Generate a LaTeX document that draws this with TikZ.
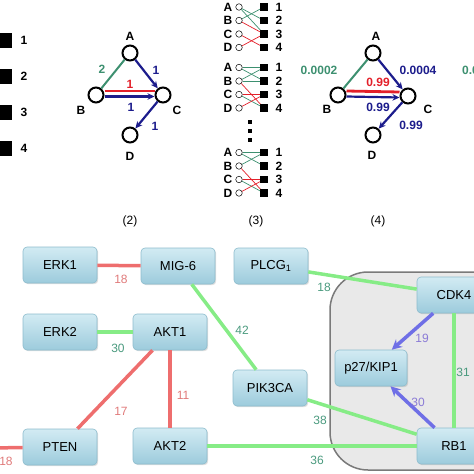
\documentclass[tikz,border=0pt]{standalone}
\usepackage{fontspec}
\setmainfont{Liberation Sans}
\usetikzlibrary{arrows.meta,shadows}
\definecolor{pgreen}{HTML}{3D9070}
\definecolor{pred}{HTML}{E3202A}
\definecolor{pblue}{HTML}{1C1C8C}
\definecolor{ered}{HTML}{EE6E6E}
\definecolor{egreen}{HTML}{86EC86}
\definecolor{eblue}{HTML}{6F6FE6}
\definecolor{lred}{HTML}{E07A7A}
\definecolor{lgreen}{HTML}{4A9A7E}
\definecolor{lblue}{HTML}{8A7AD6}
\definecolor{ntop}{HTML}{D2EBF3}
\definecolor{nbot}{HTML}{9CCBDC}
\definecolor{nborder}{HTML}{8DBCCD}
\definecolor{boxfill}{HTML}{E9E9E9}
\definecolor{boxdraw}{HTML}{7A7A7A}
\begin{document}
\begin{tikzpicture}[x=1pt,y=-1pt,
  gene/.style={rounded corners=4pt, minimum width=74pt, minimum height=36pt, top color=ntop, bottom color=nbot, draw=nborder, line width=0.6pt, font=\fontsize{13}{15}\selectfont, drop shadow={shadow xshift=1.2pt, shadow yshift=-1.2pt, opacity=0.25}, inner sep=0pt},
  elab/.style={font=\fontsize{12}{14}\selectfont},
  pc/.style={circle, draw=black, line width=2pt, fill=white, minimum size=15pt, inner sep=0pt},
  plab/.style={font=\bfseries\fontsize{12}{13}\selectfont, inner sep=0pt},
  nlab/.style={font=\bfseries\fontsize{12}{13}\selectfont, inner sep=0pt},
  captxt/.style={font=\fontsize{12}{14}\selectfont},
  sc/.style={circle, draw=black, line width=0.5pt, fill=white, minimum size=6.5pt, inner sep=0pt},
  sq/.style={fill=black, minimum size=7.5pt, inner sep=0pt},
  bigsq/.style={fill=black, minimum size=15pt, inner sep=0pt},
  parrow/.style={pblue, line width=2.2pt, -{Stealth[length=7pt,width=6.5pt]}},
  ebar/.style={line width=3.5pt},
  barrow/.style={eblue, line width=3.5pt, -{Stealth[length=10pt,width=10pt]}},
]
\path[use as bounding box] (0,0) rectangle (474,474);
\clip (0,0) rectangle (474,474);

% ---------- left panel (1)
\foreach \i/\y in {1/40,2/76,3/112,4/148}{
  \node[bigsq] (lsq\i) at (4,\y) {};
  \node[plab] (lnum\i) at (24,\y) {\i};
}

% ---------- panel (2)
\node[pc] (A2) at (130,53) {};
\node[pc] (B2) at (96,95) {};
\node[pc] (C2) at (163,95) {};
\node[pc] (D2) at (130,135) {};
\draw[pgreen, line width=2pt] (A2) -- (B2);
\draw[parrow] (A2) -- (C2);
\draw[pred, line width=2.8pt] ([yshift=4pt]B2.east) -- ([yshift=4pt]C2.west);
\draw[parrow] ([yshift=-1.5pt]B2.east) -- ([yshift=-1.5pt]C2.west);
\draw[parrow] (C2) -- (D2);
\node[plab] (A2l) at (130,36) {A};
\node[plab] (B2l) at (81,110) {B};
\node[plab] (C2l) at (177,110) {C};
\node[plab] (D2l) at (130,156) {D};
\node[plab, pgreen] (w2a) at (102,69) {2};
\node[plab, pred] (w2b) at (130,84) {1};
\node[plab, pblue] (w2c) at (131,107) {1};
\node[plab, pblue] (w2d) at (156,70) {1};
\node[plab, pblue] (w2e) at (155,126) {1};
\node[captxt] (cap2) at (130,221) {(2)};

% ---------- panel (3)
\foreach \g/\base in {1/7,2/67.5,3/152.5}{
  \foreach \i/\L in {0/A,1/B,2/C,3/D}{
    \pgfmathsetmacro{\yy}{\base+13.5*\i}
    \pgfmathtruncatemacro{\num}{\i+1}
    \node[plab] (l\g\i) at (228,\yy) {\L};
    \node[sc] (c\g\i) at (239,\yy) {};
    \node[sq] (s\g\i) at (264,\yy) {};
    \node[plab] (n\g\i) at (279,\yy) {\num};
  }
}
\foreach \a/\b in {0/1,0/2,1/0}{\draw[pgreen, line width=0.7pt] (c1\a) -- (s1\b);}
\foreach \a/\b in {1/2,2/3,3/2}{\draw[pred, line width=0.7pt] (c1\a) -- (s1\b);}
\foreach \a/\b in {0/0,0/1,1/0,1/1,2/3}{\draw[pgreen, line width=0.7pt] (c2\a) -- (s2\b);}
\foreach \a/\b in {1/3,2/2,3/2}{\draw[pred, line width=0.7pt] (c2\a) -- (s2\b);}
\foreach \a/\b in {0/0,0/1,1/0,2/3}{\draw[pgreen, line width=0.7pt] (c3\a) -- (s3\b);}
\foreach \a/\b in {1/3,2/2,3/2}{\draw[pred, line width=0.7pt] (c3\a) -- (s3\b);}
\foreach \y [count=\k] in {122,131,140}{\node[fill=black, minimum size=3.2pt, inner sep=0pt] (dot\k) at (250,\y) {};}
\node[captxt] (cap3) at (256,221) {(3)};

% ---------- panel (4)
\node[pc] (A4) at (373,53) {};
\node[pc] (B4) at (338,95) {};
\node[pc] (C4) at (408,96) {};
\node[pc] (D4) at (373,135) {};
\draw[pgreen, line width=2pt] (A4) -- (B4);
\draw[parrow] (A4) -- (C4);
\draw[pred, line width=2.8pt] ([yshift=4pt]B4.east) -- ([yshift=4pt]C4.west);
\draw[parrow] ([yshift=-1.5pt]B4.east) -- ([yshift=-1.5pt]C4.west);
\draw[parrow] (C4) -- (D4);
\node[plab] (A4l) at (376,36) {A};
\node[plab] (B4l) at (327,109) {B};
\node[plab] (C4l) at (428,109) {C};
\node[plab] (D4l) at (372,155) {D};
\node[nlab, pgreen] (w4a) at (319,70) {0.0002};
\node[nlab, pblue] (w4b) at (418,70) {0.0004};
\node[nlab, pred] (w4c) at (378,82) {0.99};
\node[nlab, pblue] (w4d) at (378,107) {0.99};
\node[nlab, pblue] (w4e) at (411,125) {0.99};
\node[nlab, pgreen, anchor=west] (w5a) at (462,70) {0.0002};
\node[captxt] (cap4) at (378,221) {(4)};

% ---------- bottom network
\draw[boxdraw, fill=boxfill, line width=1.5pt, rounded corners=38pt] (330,272) rectangle (540,470);

\node[gene] (erk1) at (60,265) {ERK1};
\node[gene] (mig6) at (178,266) {MIG-6};
\node[gene] (erk2) at (60,332) {ERK2};
\node[gene] (akt1) at (170,332) {AKT1};
\node[gene] (pten) at (60,447) {PTEN};
\node[gene] (akt2) at (170,446) {AKT2};
\node[gene] (plcg) at (271,266) {PLCG\textsubscript{1}};
\node[gene] (pik) at (270,388) {PIK3CA};
\node[gene, minimum width=72pt] (p27) at (371,368) {p27/KIP1};
\node[gene] (cdk4) at (454,295) {CDK4};
\node[gene] (rb1) at (454,446) {RB1};
\coordinate (offl) at (-10,448);

\draw[ered, ebar] (erk1) -- (mig6);
\draw[egreen, ebar] (erk2) -- (akt1);
\draw[ered, ebar] (akt1) -- (pten);
\draw[ered, ebar] (akt1) -- (akt2);
\draw[egreen, ebar] (mig6) -- (pik);
\draw[egreen, ebar] (plcg) -- (cdk4);
\draw[egreen, ebar] (pik) -- (rb1);
\draw[egreen, ebar] (akt2) -- (rb1);
\draw[ered, ebar] (pten) -- (offl);
\draw[barrow] (cdk4) -- (p27);
\draw[barrow] (rb1) -- (p27);
\draw[egreen, ebar] (cdk4) -- (rb1);

\node[elab, lred] (e1) at (121,279) {18};
\node[elab, lgreen] (e2) at (118,348) {30};
\node[elab, lred] (e3) at (121,411) {17};
\node[elab, lred] (e4) at (183,395) {11};
\node[elab, lgreen] (e5) at (242,330) {42};
\node[elab, lgreen] (e6) at (324,287) {18};
\node[elab, lgreen] (e7) at (320,420) {38};
\node[elab, lgreen] (e8) at (317,460) {36};
\node[elab, lred] (e9) at (6,461) {18};
\node[elab, lblue] (e10) at (422,338) {19};
\node[elab, lblue] (e11) at (418,402) {30};
\node[elab, lgreen] (e12) at (463,372) {31};
\end{tikzpicture}
\end{document}
